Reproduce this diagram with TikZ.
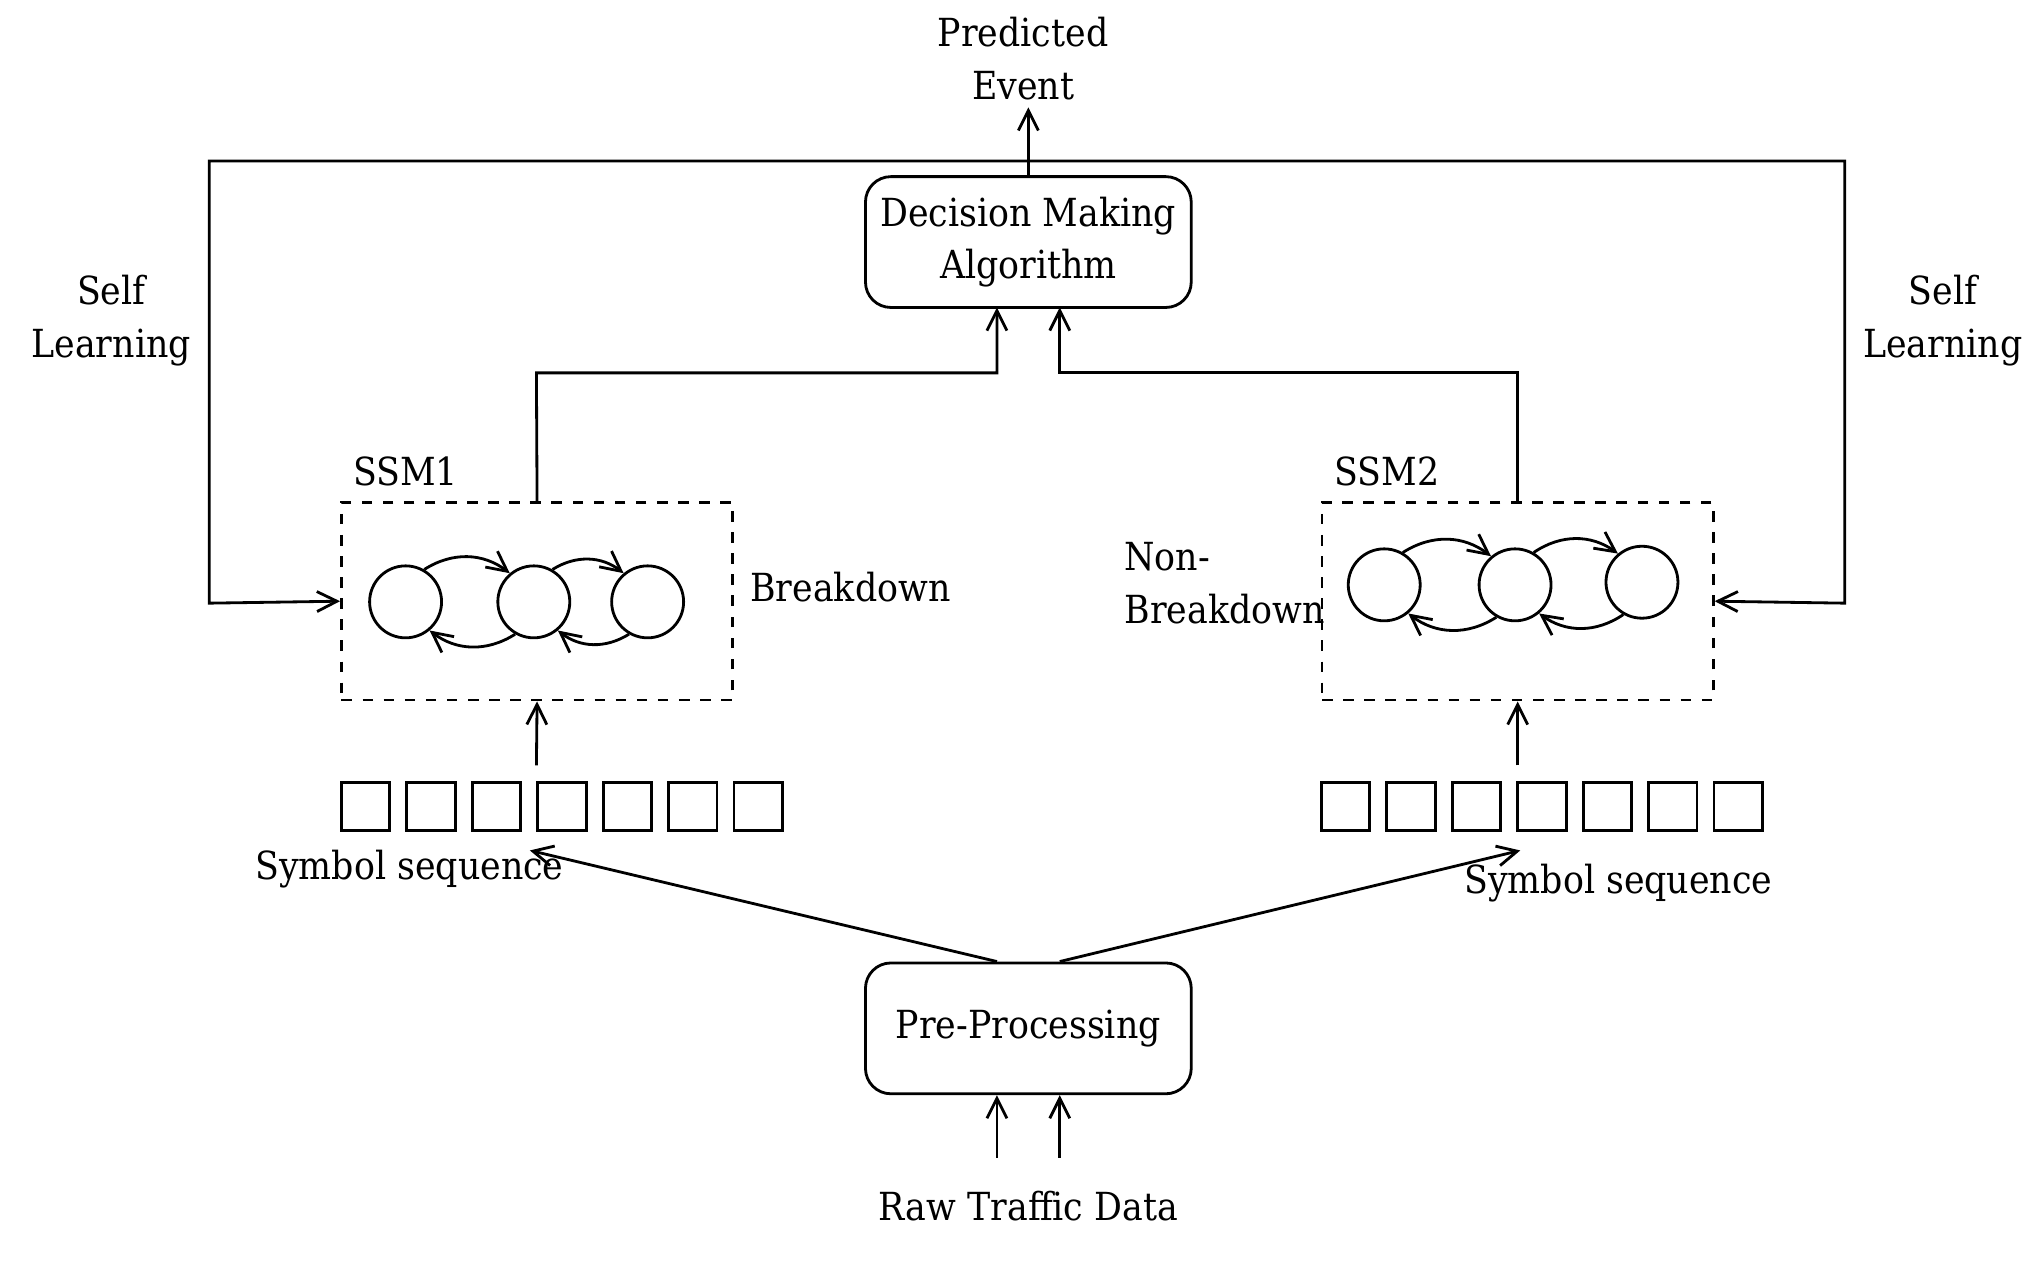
\documentclass[tikz,border=0pt]{standalone}
\usepackage{fontspec}
\setmainfont{DejaVu Serif Condensed}
\usetikzlibrary{positioning,arrows.meta}
\begin{document}
\begin{tikzpicture}
    [
    x=0.1308mm, y=-0.1308mm,
    every node/.style = {font=\fontsize{11}{15}\selectfont},
    box/.style = {draw, rounded corners=0.1in, minimum width=249*0.1308mm, minimum height=100*0.1308mm, line width=0.8pt, align=center},
    ssm/.style = {draw, dashed, minimum width=299*0.1308mm, minimum height=151*0.1308mm, line width=0.8pt},
    st/.style = {draw, circle, minimum size=55*0.1308mm, inner sep=0pt, line width=0.8pt},
    sym/.style = {draw, minimum width=37*0.1308mm, minimum height=37*0.1308mm, inner sep=0pt, line width=0.8pt},
    arr/.style = {-{Straight Barb[length=2mm,width=2mm]}, line width=0.8pt},
    ln/.style = {line width=0.8pt},
    txt/.style = {align=center}
    ]
\useasboundingbox (0,0) rectangle (1560,975);
\node[box] (dec) at (786,185) {Decision Making\\Algorithm};
\node[box] (pre) at (786,786) {Pre-Processing};
\node[txt] (pred) at (782,45) {Predicted\\Event};
\node[txt] (raw) at (786,922) {Raw Traffic Data};
\node[txt] (sl1) at (85,245) {Self\\Learning};
\node[txt] (sl2) at (1485,245) {Self\\Learning};

\node[ssm] (ssm1) at (410.5,459.5) {};
\node[ssm] (ssm2) at (1160,459.5) {};
\node (lab1) at (310,360) {SSM1};
\node (lab2) at (1060,360) {SSM2};
\node (brk) at (650,449) {Breakdown};
\node[align=left, anchor=west] (nbrk) at (850,446) {Non-\\Breakdown};

% states
\node[st] (a1) at (310,460) {};
\node[st] (a2) at (408,460) {};
\node[st] (a3) at (495,460) {};
\node[st] (b1) at (1058,447) {};
\node[st] (b2) at (1158,447) {};
\node[st] (b3) at (1255,445) {};
\foreach \p/\q in {a1/a2,a2/a3,b1/b2,b2/b3}{
  \draw[arr] (\p.60) to[bend left=35] (\q.130);
  \draw[arr] (\q.-120) to[bend left=35] (\p.-50);
}

% symbol sequences
\foreach \i in {0,...,6}{
  \node[sym] (s\i) at (279.5+50*\i,616.5) {};
  \node[sym] (t\i) at (1028.5+50*\i,616.5) {};
}
\node (seq1) at (313,664) {Symbol sequence};
\node (seq2) at (1237,675) {Symbol sequence};

\coordinate (in1) at (410,585);
\coordinate (in2) at (1160,585);
\draw[arr] (in1) -- (ssm1.south);
\draw[arr] (in2) -- (ssm2.south);

% pre-processing outputs
\draw[arr] ([xshift=-24*0.1308mm]pre.north) -- (405,650);
\draw[arr] ([xshift=24*0.1308mm]pre.north) -- (1162,650);
\coordinate (r1) at (762,885);
\coordinate (r2) at (810,885);
\draw[arr] (r1) -- (r1 |- pre.south);
\draw[arr] (r2) -- (r2 |- pre.south);

% to decision
\draw[arr] (ssm1.north) -- (410,285) -- (762,285) -- (762,235);
\draw[arr] (ssm2.north) -- (1160,285) -- (810,285) -- (810,235);
\draw[arr] (dec.north) -- (786,82);

% feedback
\draw[arr] (786,123) -- (160,123) -- (160,461) -- (ssm1.west);
\draw[arr] (786,123) -- (1410,123) -- (1410,461) -- (ssm2.east);
\end{tikzpicture}
\end{document}
